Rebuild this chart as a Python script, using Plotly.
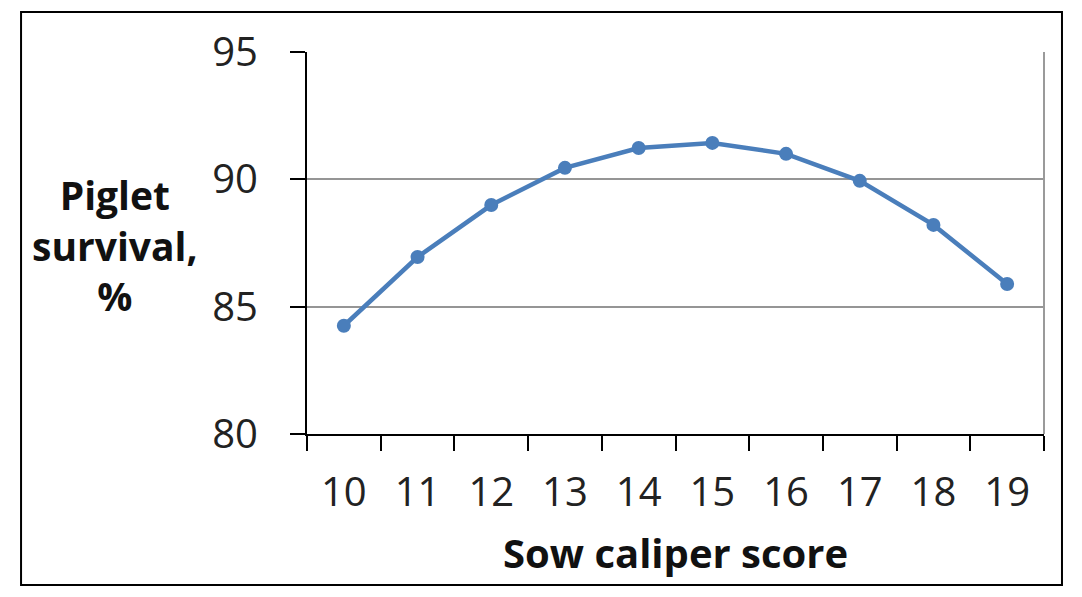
"""Piglet survival against sow caliper score, redrawn with Plotly."""

import plotly.graph_objects as go

# data
caliper_score = ["10", "11", "12", "13", "14", "15", "16", "17", "18", "19"]
survival_pct = [84.25, 86.95, 88.99, 90.45, 91.23, 91.43, 91.0, 89.94, 88.21, 85.89]
y_ticks = [80, 85, 90, 95]

BLUE = "#4A7EBB"
FONT = "Open Sans"

fig = go.Figure()
fig.add_trace(go.Scatter(
    x=caliper_score, y=survival_pct, mode="lines+markers",
    line=dict(color=BLUE, width=4.5),
    marker=dict(color=BLUE, size=14),
    hoverinfo="skip",
))

# the page body has an 8px margin, so the plot box is nudged up and left
fig.update_layout(
    width=1082, height=597,
    margin=dict(l=299, r=46, t=44, b=171),
    paper_bgcolor="white", plot_bgcolor="white",
    showlegend=False,
    font=dict(family=FONT, color="#222222"),
    xaxis=dict(
        type="category", tickson="boundaries", range=[-0.5, 9.5],
        ticks="outside", ticklen=15, tickwidth=2, tickcolor="#000000",
        showline=True, linecolor="#000000", linewidth=2,
        showgrid=False, zeroline=False,
        tickfont=dict(size=40, family=FONT, color="#222222"),
        ticklabelstandoff=22,
    ),
    yaxis=dict(
        range=[80, 95], tickvals=y_ticks,
        ticks="outside", ticklen=15, tickwidth=2, tickcolor="#000000",
        showline=True, linecolor="#000000", linewidth=2,
        showgrid=True, gridcolor="#959595", gridwidth=2,
        zeroline=False,
        tickfont=dict(size=40, family=FONT, color="#222222"),
        ticklabelstandoff=24,
    ),
)

# right edge of the plot area
fig.add_shape(type="line", xref="paper", yref="paper", x0=1, x1=1, y0=0, y1=1,
              line=dict(color="#9A9A9A", width=2))
# outer frame round the whole chart
fig.add_shape(type="rect", xref="paper", yref="paper",
              x0=-0.3880, x1=1.0244, y0=-0.3953, y1=1.1047,
              line=dict(color="#000000", width=2))

fig.add_annotation(
    text="<b>Piglet<br>survival,<br>%</b>", xref="paper", yref="paper",
    x=-0.2605, y=0.495, xanchor="center", yanchor="middle",
    showarrow=False, align="center",
    font=dict(size=39, family=FONT, color="#111111"),
)
fig.add_annotation(
    text="<b>Sow caliper score</b>", xref="paper", yref="paper",
    x=0.5, y=-0.31, xanchor="center", yanchor="middle", showarrow=False,
    font=dict(size=40, family=FONT, color="#111111"),
)

fig.write_html("out.html")
